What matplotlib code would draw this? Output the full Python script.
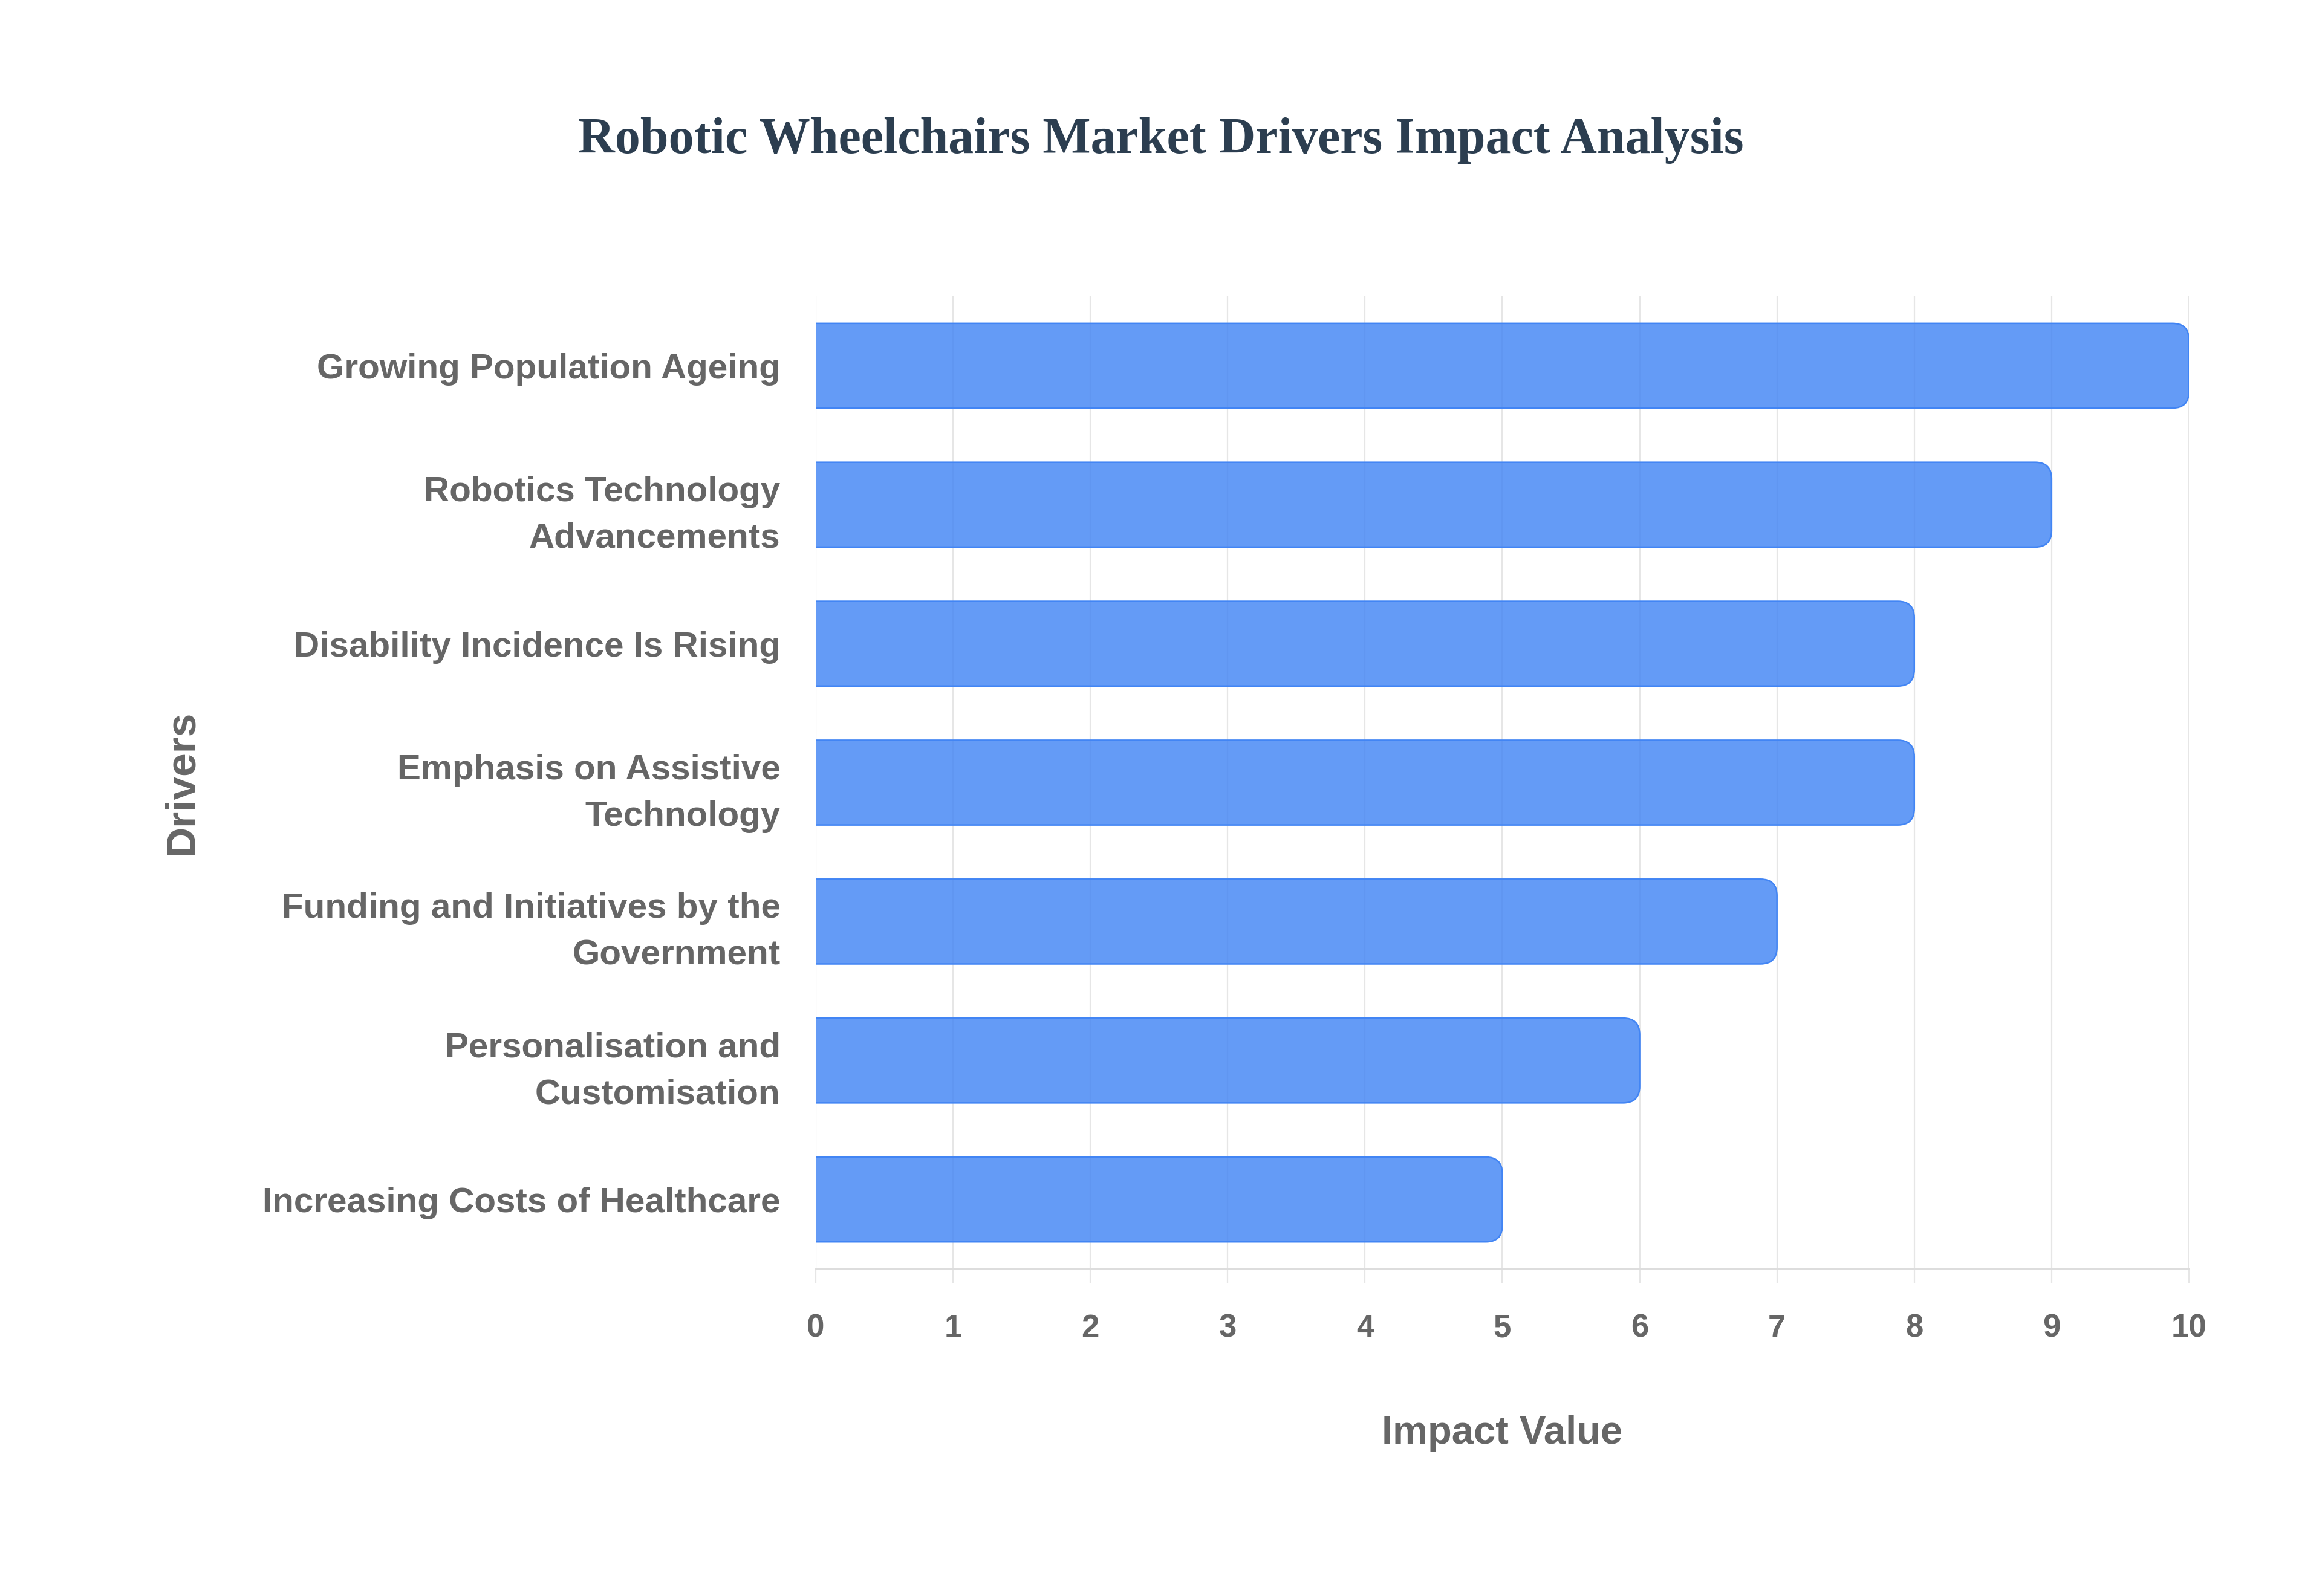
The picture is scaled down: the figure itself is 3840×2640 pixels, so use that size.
import matplotlib
matplotlib.use("Agg")
import matplotlib.pyplot as plt
from matplotlib.patches import FancyBboxPatch

drivers = [
    "Growing Population Ageing",
    "Robotics Technology\nAdvancements",
    "Disability Incidence Is Rising",
    "Emphasis on Assistive\nTechnology",
    "Funding and Initiatives by the\nGovernment",
    "Personalisation and\nCustomisation",
    "Increasing Costs of Healthcare",
]
impact = [10, 9, 8, 8, 7, 6, 5]
x_ticks = list(range(0, 11))

title_text = "Robotic Wheelchairs Market Drivers Impact Analysis"
label_gray = "#666666"
bar_face = (0.259, 0.522, 0.957, 0.82)
bar_edge = "#4285f4"

fig = plt.figure(figsize=(38.4, 26.4), dpi=100)
ax = fig.add_axes([0.3513, 0.2049, 0.5914, 0.6095])

ax.set_xlim(0, 10)
ax.set_ylim(len(drivers) - 0.5, -0.5)

bar_h = 0.61
radius = 0.12
for i, v in enumerate(impact):
    # start left of zero so the left rounded corners are clipped away
    box = FancyBboxPatch((-0.5, i - bar_h / 2), v + 0.5, bar_h,
                         boxstyle=f"round,pad=0,rounding_size={radius}",
                         mutation_aspect=0.988,
                         facecolor=bar_face, edgecolor=bar_edge,
                         linewidth=1.8, zorder=3)
    ax.add_patch(box)

ax.set_xticks(x_ticks)
ax.set_xticklabels([str(t) for t in x_ticks])
ax.set_yticks(range(len(drivers)))
ax.set_yticklabels(drivers, linespacing=1.55)

ax.grid(axis="x", color="#e6e6e6", linewidth=1.6, zorder=0)
ax.set_axisbelow(True)
for s in ["top", "right", "left"]:
    ax.spines[s].set_visible(False)
ax.spines["bottom"].set_color("#dddddd")
ax.spines["bottom"].set_linewidth(1.6)

ax.tick_params(axis="x", length=17, width=1.6, color="#e6e6e6", pad=36,
               labelsize=38, labelcolor=label_gray)
ax.tick_params(axis="y", length=0, pad=42, labelsize=42, labelcolor=label_gray)
for lab in ax.get_xticklabels() + ax.get_yticklabels():
    lab.set_fontfamily("Liberation Sans")
    lab.set_fontweight("bold")

ax.set_xlabel("Impact Value", fontsize=47, fontweight="bold", color=label_gray,
              fontfamily="Liberation Sans")
ax.xaxis.set_label_coords(0.5, -0.169)
ax.xaxis.label.set_verticalalignment("center")
ax.set_ylabel("Drivers", fontsize=50, fontweight="bold", color=label_gray,
              fontfamily="Liberation Sans")
ax.yaxis.set_label_coords(-0.4615, 0.5)
ax.yaxis.label.set_verticalalignment("center")

fig.text(0.5, 0.9120, title_text, ha="center", va="center", fontsize=60.5,
         fontweight="bold", color="#2c3e50", fontfamily="Liberation Serif")

fig.savefig("out.png", dpi=100, facecolor="white")
